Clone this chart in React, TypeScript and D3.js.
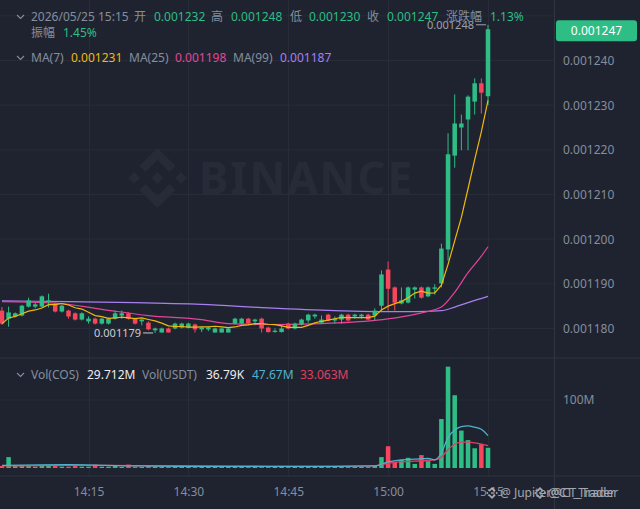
import { useEffect, useRef } from "react"
import * as d3 from "d3"

// prices are in units of 0.000001 USDT, one candle per minute from 14:02
const opens = [
  1184.0, 1182.2, 1182.7, 1182.9, 1184.9, 1184.9, 1184.9, 1186.0, 1185.6, 1183.8,
  1184.0, 1183.4, 1182.0, 1181.6, 1182.2, 1181.1, 1181.1, 1182.2, 1182.9, 1183.4,
  1182.2, 1181.6, 1181.3, 1179.6, 1179.1, 1180.0, 1180.0, 1180.2, 1180.2, 1180.9,
  1179.8, 1179.8, 1179.1, 1179.1, 1179.1, 1181.1, 1181.1, 1182.2, 1181.6, 1182.2,
  1180.2, 1179.2, 1179.2, 1181.1, 1180.0, 1180.9, 1181.8, 1182.7, 1181.3, 1183.1,
  1181.8, 1182.0, 1183.1, 1182.7, 1182.7, 1183.1, 1182.9, 1185.1, 1193.2, 1189.2,
  1185.6, 1185.8, 1188.7, 1189.2, 1187.2, 1188.9, 1190.1, 1197.7, 1218.7, 1225.0,
  1226.8, 1230.8, 1234.9, 1232.0,
]
const highs = [
  1184.8, 1184.9, 1183.6, 1185.3, 1186.9, 1185.8, 1187.4, 1187.8, 1185.8, 1185.3,
  1184.2, 1183.6, 1183.6, 1182.7, 1182.4, 1182.4, 1182.4, 1184.0, 1184.0, 1183.6,
  1182.4, 1182.2, 1181.6, 1180.2, 1180.2, 1180.2, 1181.3, 1181.3, 1181.3, 1181.1,
  1180.4, 1180.4, 1180.2, 1180.2, 1180.2, 1182.4, 1182.4, 1182.4, 1182.2, 1182.4,
  1180.4, 1180.0, 1180.7, 1181.3, 1181.3, 1182.2, 1183.3, 1183.3, 1182.9, 1183.3,
  1182.7, 1183.3, 1183.3, 1183.3, 1183.3, 1183.3, 1184.5, 1193.0, 1195.0, 1189.4,
  1189.2, 1189.4, 1189.4, 1189.4, 1189.4, 1189.9, 1199.0, 1223.7, 1232.4, 1227.9,
  1232.2, 1236.0, 1236.0, 1248.0,
]
const lows = [
  1180.8, 1180.4, 1182.5, 1182.7, 1184.7, 1184.5, 1184.7, 1184.7, 1183.6, 1183.6,
  1182.2, 1181.8, 1181.8, 1181.1, 1180.9, 1180.9, 1180.9, 1182.0, 1182.2, 1182.0,
  1180.9, 1180.7, 1179.6, 1179.0, 1179.1, 1179.1, 1179.8, 1180.0, 1180.0, 1179.1,
  1179.2, 1179.4, 1179.1, 1179.1, 1179.1, 1180.9, 1180.9, 1180.9, 1180.7, 1179.1,
  1179.1, 1179.1, 1179.1, 1179.8, 1179.8, 1180.7, 1181.3, 1182.2, 1181.1, 1181.6,
  1181.1, 1181.1, 1181.6, 1182.2, 1182.2, 1181.8, 1181.8, 1183.8, 1184.0, 1184.0,
  1185.4, 1185.6, 1186.7, 1186.7, 1187.0, 1187.6, 1189.2, 1195.2, 1216.0, 1219.9,
  1219.9, 1227.9, 1228.1, 1230.0,
]
const closes = [
  1181.1, 1183.6, 1183.4, 1185.1, 1186.3, 1185.4, 1187.2, 1186.3, 1183.8, 1185.1,
  1182.7, 1182.0, 1183.4, 1182.2, 1181.1, 1182.2, 1182.2, 1183.4, 1183.4, 1182.2,
  1181.1, 1182.0, 1179.8, 1180.0, 1180.0, 1179.1, 1181.1, 1181.1, 1181.1, 1179.8,
  1180.2, 1180.2, 1180.0, 1180.0, 1180.0, 1182.2, 1182.2, 1181.1, 1182.0, 1180.0,
  1179.2, 1179.5, 1180.0, 1180.0, 1181.1, 1182.0, 1183.1, 1183.1, 1182.0, 1181.8,
  1182.2, 1183.1, 1181.8, 1183.1, 1183.1, 1182.0, 1184.0, 1192.1, 1188.9, 1185.8,
  1186.3, 1189.2, 1189.2, 1186.9, 1189.2, 1189.2, 1197.9, 1219.0, 1225.9, 1225.9,
  1231.9, 1234.9, 1232.8, 1247.0,
]
// volume, millions of COS
const volumes = [
  3, 16, 3, 4, 3, 2, 4, 3, 3, 2,
  2, 3, 2, 2, 5, 2, 2, 3, 1.5, 5,
  2, 1.5, 3, 2, 2, 2, 2, 1.5, 2, 2,
  1.5, 1.5, 2, 2, 1.5, 2, 2, 1.5, 1.5, 3,
  2, 1.5, 2, 1.5, 1.5, 2, 2, 1.5, 1.5, 2,
  1.5, 2, 2, 1.5, 1.5, 2, 3, 16, 32, 9,
  12, 15, 6, 19, 10, 6, 72, 149, 107, 55,
  41, 29, 35, 29.712,
]

// moving averages at these candle indexes
const ma25At = [0, 8, 15, 22, 30, 34, 40, 48, 56, 60, 63, 66, 68, 70, 72, 73]
const ma25 = [1186.0, 1185.7, 1184.3, 1182.9, 1182.0, 1181.1, 1180.9, 1181.1, 1181.8, 1182.6, 1183.5, 1184.8, 1188.1, 1192.5, 1196.2, 1198.3]
const ma99At = [0, 10, 20, 30, 40, 50, 56, 62, 66, 68, 70, 73]
const ma99 = [1186.2, 1186.0, 1185.8, 1185.4, 1184.6, 1184.0, 1183.8, 1183.8, 1184.0, 1184.8, 1185.8, 1187.2]
const volMaAt = [0, 10, 20, 30, 40, 50, 56, 58, 60, 62, 64, 65, 66, 67, 68, 69, 70, 71, 72, 73]
const volMaFast = [4, 5, 3, 2.5, 2.5, 2.5, 3, 9, 12, 13, 14, 12, 22, 45, 56, 61, 62, 60, 57, 47.67]
const volMaSlow = [3, 4, 3.5, 3, 2.5, 2.5, 3, 7, 9, 10, 11, 12, 16, 27, 35, 38, 38, 37, 35, 33.063]

const firstCandle = new Date(2026, 4, 25, 14, 2)
const timeTicks = ["14:15", "14:30", "14:45", "15:00", "15:15"]
const priceTicks = [1180, 1190, 1200, 1210, 1220, 1230, 1240]
const volTicks = [100]

const GREEN = "#2ebd85"
const RED = "#f6465d"
const BG = "#1f2330"
const GRID = "#272c37"
const SEP = "#2e3440"
const TEXT = "#848e9c"
const WHITE = "#eaecef"
const MA7C = "#f0b90b"
const MA25C = "#e2459a"
const MA99C = "#a97ff0"
const VFAST = "#4fb3cf"
const VSLOW = "#e0405f"
const FONT = "'Noto Sans', 'Noto Sans CJK SC', sans-serif"

const fmt = (v: number) => (v * 1e-6).toFixed(6)

export default function App() {
  const svgRef = useRef<SVGSVGElement>(null)

  useEffect(() => {
    if (!svgRef.current) return
    const W = 640
    const H = 509
    const plotRight = 554
    const mainBottom = 358
    const volBottom = 476

    const svg = d3.select(svgRef.current)
    svg.selectAll("*").remove()
    svg.attr("width", W).attr("height", H).style("font-family", FONT)

    svg.append("rect").attr("width", W).attr("height", H).attr("fill", BG)

    const day = (s: string) => {
      const [h, m] = s.split(":").map(Number)
      return new Date(2026, 4, 25, h, m)
    }
    const times = opens.map((_, i) => d3.timeMinute.offset(firstCandle, i))
    const x = d3.scaleTime().domain([day("14:15"), day("15:15")]).range([88.5, 488])
    const y = d3.scaleLinear().domain([1180, 1240]).range([328.5, 60.5])
    const yv = d3.scaleLinear().domain([0, 100]).range([468, 400])
    const step = x(times[1]) - x(times[0])
    const bw = step * 0.68

    // grid
    const grid = svg.append("g").attr("stroke", GRID).attr("stroke-width", 1)
    ;[...priceTicks, 1250].forEach((p) => {
      grid.append("line").attr("x1", 0).attr("x2", plotRight).attr("y1", y(p)).attr("y2", y(p))
    })
    volTicks.forEach((v) => {
      grid.append("line").attr("x1", 0).attr("x2", plotRight).attr("y1", yv(v)).attr("y2", yv(v))
    })
    timeTicks.forEach((t) => {
      const xx = Math.round(x(day(t))) + 0.5
      grid.append("line").attr("x1", xx).attr("x2", xx).attr("y1", 0).attr("y2", volBottom)
    })

    // separators
    const sep = svg.append("g").attr("stroke", SEP).attr("stroke-width", 1.2)
    sep.append("line").attr("x1", 0).attr("x2", W).attr("y1", mainBottom).attr("y2", mainBottom)
    sep.append("line").attr("x1", 0).attr("x2", W).attr("y1", volBottom).attr("y2", volBottom)
    sep.append("line").attr("x1", plotRight + 0.5).attr("x2", plotRight + 0.5).attr("y1", 0).attr("y2", H)

    // watermark
    const wm = svg.append("g").attr("fill", "#262b37")
    const logo = (g: d3.Selection<SVGGElement, unknown, null, undefined>, cx: number, cy: number, r: number) => {
      const P = (pts: number[][]) =>
        "M" + pts.map(([a, b]) => `${cx + a * r},${cy + b * r}`).join("L") + "Z"
      const dia = (a: number, b: number, s: number) => P([[a, b - s], [a + s, b], [a, b + s], [a - s, b]])
      g.append("path").attr("d", dia(0, 0, 0.2))
      g.append("path").attr("d", dia(-0.78, 0, 0.2))
      g.append("path").attr("d", dia(0.78, 0, 0.2))
      g.append("path").attr("d", P([[0, -1], [0.6, -0.4], [0.4, -0.2], [0, -0.6], [-0.4, -0.2], [-0.6, -0.4]]))
      g.append("path").attr("d", P([[0, 1], [0.6, 0.4], [0.4, 0.2], [0, 0.6], [-0.4, 0.2], [-0.6, 0.4]]))
    }
    logo(wm, 157.5, 178, 30)
    wm.append("text")
      .attr("x", 199)
      .attr("y", 194)
      .attr("font-size", 44)
      .attr("font-weight", 700)
      .attr("letter-spacing", 2)
      .text("BINANCE")

    // moving averages of price
    const ma7 = closes.map((_, i) => {
      const w = closes.slice(Math.max(0, i - 6), i + 1)
      return d3.mean(w) as number
    })
    const lineIdx = d3
      .line<[number, number]>()
      .x((d) => x(times[d[0]]))
      .y((d) => y(d[1]))
    const drawLine = (pts: [number, number][], color: string, curve: d3.CurveFactory) => {
      svg.append("path")
        .datum(pts)
        .attr("fill", "none")
        .attr("stroke", color)
        .attr("stroke-width", 1.2)
        .attr("d", lineIdx.curve(curve))
    }
    drawLine(ma99At.map((i, k) => [i, ma99[k]]), MA99C, d3.curveMonotoneX)
    drawLine(ma25At.map((i, k) => [i, ma25[k]]), MA25C, d3.curveMonotoneX)

    // candles
    const candles = svg.append("g")
    opens.forEach((o, i) => {
      const c = closes[i]
      const color = c >= o ? GREEN : RED
      const cx = x(times[i])
      candles.append("line")
        .attr("x1", cx).attr("x2", cx)
        .attr("y1", y(highs[i])).attr("y2", y(lows[i]))
        .attr("stroke", color).attr("stroke-width", 1)
      const top = y(Math.max(o, c))
      const h = Math.max(1, Math.abs(y(o) - y(c)))
      candles.append("rect")
        .attr("x", cx - bw / 2).attr("y", top)
        .attr("width", bw).attr("height", h)
        .attr("fill", color)
    })

    drawLine(ma7.map((v, i) => [i, v]), MA7C, d3.curveLinear)

    // high / low markers
    const hiIdx = d3.maxIndex(highs)
    const loIdx = d3.minIndex(lows)
    const marker = (i: number, v: number, color: string) => {
      const cx = x(times[i])
      const yy = y(v)
      svg.append("line").attr("x1", cx - 12).attr("x2", cx - 2).attr("y1", yy).attr("y2", yy)
        .attr("stroke", color).attr("stroke-width", 1)
      svg.append("text").attr("x", cx - 14).attr("y", yy).attr("dy", "0.35em")
        .attr("text-anchor", "end").attr("font-size", 11).attr("fill", color)
        .text(fmt(v))
    }
    marker(hiIdx, highs[hiIdx], "#9ba1ab")
    marker(loIdx, lows[loIdx], "#c9cdd3")

    // volume bars
    const vbars = svg.append("g")
    volumes.forEach((v, i) => {
      const color = closes[i] >= opens[i] ? GREEN : RED
      vbars.append("rect")
        .attr("x", x(times[i]) - bw / 2)
        .attr("y", yv(v))
        .attr("width", bw)
        .attr("height", Math.max(1, yv(0) - yv(v)))
        .attr("fill", color)
    })
    const volLine = d3
      .line<[number, number]>()
      .x((d) => x(times[d[0]]))
      .y((d) => yv(d[1]))
      .curve(d3.curveMonotoneX)
    ;[
      [volMaSlow, VSLOW],
      [volMaFast, VFAST],
    ].forEach(([vals, color]) => {
      svg.append("path")
        .datum(volMaAt.map((i, k) => [i, (vals as number[])[k]] as [number, number]))
        .attr("fill", "none")
        .attr("stroke", color as string)
        .attr("stroke-width", 1.3)
        .attr("d", volLine)
    })

    // axes
    const styleAxis = (g: d3.Selection<SVGGElement, unknown, null, undefined>) => {
      g.select(".domain").remove()
      g.selectAll("text").attr("fill", TEXT).attr("font-size", 12).attr("font-family", FONT)
    }
    svg.append("g")
      .attr("transform", `translate(${plotRight},0)`)
      .call(d3.axisRight(y).tickValues(priceTicks).tickSize(0).tickPadding(9).tickFormat((d) => fmt(d as number)))
      .call(styleAxis)
    svg.append("g")
      .attr("transform", `translate(${plotRight},0)`)
      .call(d3.axisRight(yv).tickValues(volTicks).tickSize(0).tickPadding(9).tickFormat((d) => `${d}M`))
      .call(styleAxis)
    svg.append("g")
      .attr("transform", `translate(0,${volBottom})`)
      .call(
        d3.axisBottom(x)
          .tickValues(timeTicks.map(day))
          .tickSize(0)
          .tickPadding(11)
          .tickFormat((d) => d3.timeFormat("%H:%M")(d as Date)),
      )
      .call(styleAxis)

    // current price tag
    const last = closes.length - 1
    const tagY = y(closes[last])
    svg.append("rect")
      .attr("x", plotRight + 2).attr("y", tagY - 9).attr("width", 81).attr("height", 21).attr("rx", 3)
      .attr("fill", GREEN)
    svg.append("text")
      .attr("x", plotRight + 42.5).attr("y", tagY + 1.5).attr("dy", "0.35em")
      .attr("text-anchor", "middle").attr("font-size", 12).attr("fill", "#ffffff")
      .text(fmt(closes[last]))

    // legends
    const chevron = (cy: number) => {
      svg.append("path")
        .attr("d", `M17,${cy - 2}L20.5,${cy + 1.5}L24,${cy - 2}`)
        .attr("fill", "none").attr("stroke", TEXT).attr("stroke-width", 1.1)
    }
    const label = (t: string, xx: number, yy: number, color: string) => {
      svg.append("text").attr("x", xx).attr("y", yy).attr("dy", "0.35em")
        .attr("font-size", 12).attr("fill", color).text(t)
    }
    chevron(17)
    label("2026/05/25 15:15", 31, 17, TEXT)
    label("开", 134, 17, TEXT)
    label(fmt(opens[last]), 154, 17, GREEN)
    label("高", 211, 17, TEXT)
    label(fmt(highs[last]), 231, 17, GREEN)
    label("低", 290, 17, TEXT)
    label(fmt(lows[last]), 309, 17, GREEN)
    label("收", 367, 17, TEXT)
    label(fmt(closes[last]), 387, 17, GREEN)
    label("涨跌幅", 446, 17, TEXT)
    label("1.13%", 490, 17, GREEN)
    label("振幅", 31, 33, TEXT)
    label("1.45%", 63, 33, GREEN)

    chevron(58)
    label("MA(7)", 31, 58, TEXT)
    label(fmt(ma7[last]), 71, 58, MA7C)
    label("MA(25)", 129, 58, TEXT)
    label(fmt(ma25[ma25.length - 1]), 175, 58, MA25C)
    label("MA(99)", 233, 58, TEXT)
    label(fmt(ma99[ma99.length - 1]), 280, 58, MA99C)

    chevron(375)
    label("Vol(COS)", 31, 375, TEXT)
    label(`${volumes[last].toFixed(3)}M`, 87, 375, WHITE)
    label("Vol(USDT)", 142, 375, TEXT)
    label("36.79K", 206, 375, WHITE)
    label(`${volMaFast[volMaFast.length - 1]}M`, 252, 375, VFAST)
    label(`${volMaSlow[volMaSlow.length - 1]}M`, 300, 375, VSLOW)

    // footer watermark
    const foot = svg.append("g").attr("fill", "#c3c7cd").attr("opacity", 0.8)
    logo(foot.append("g"), 492, 493, 6)
    logo(foot.append("g"), 540, 493, 6)
    foot.append("text").attr("x", 500).attr("y", 493).attr("dy", "0.35em").attr("font-size", 12).text("@ Jupiter@CT_Trader")
    foot.append("text").attr("x", 548).attr("y", 493).attr("dy", "0.35em").attr("font-size", 12).text("@CT_Trader")
  }, [])

  return (
    <div style={{ position: "fixed", left: 0, top: 0, width: 640, height: 509, background: BG }}>
      <svg ref={svgRef} style={{ display: "block" }} />
    </div>
  )
}
